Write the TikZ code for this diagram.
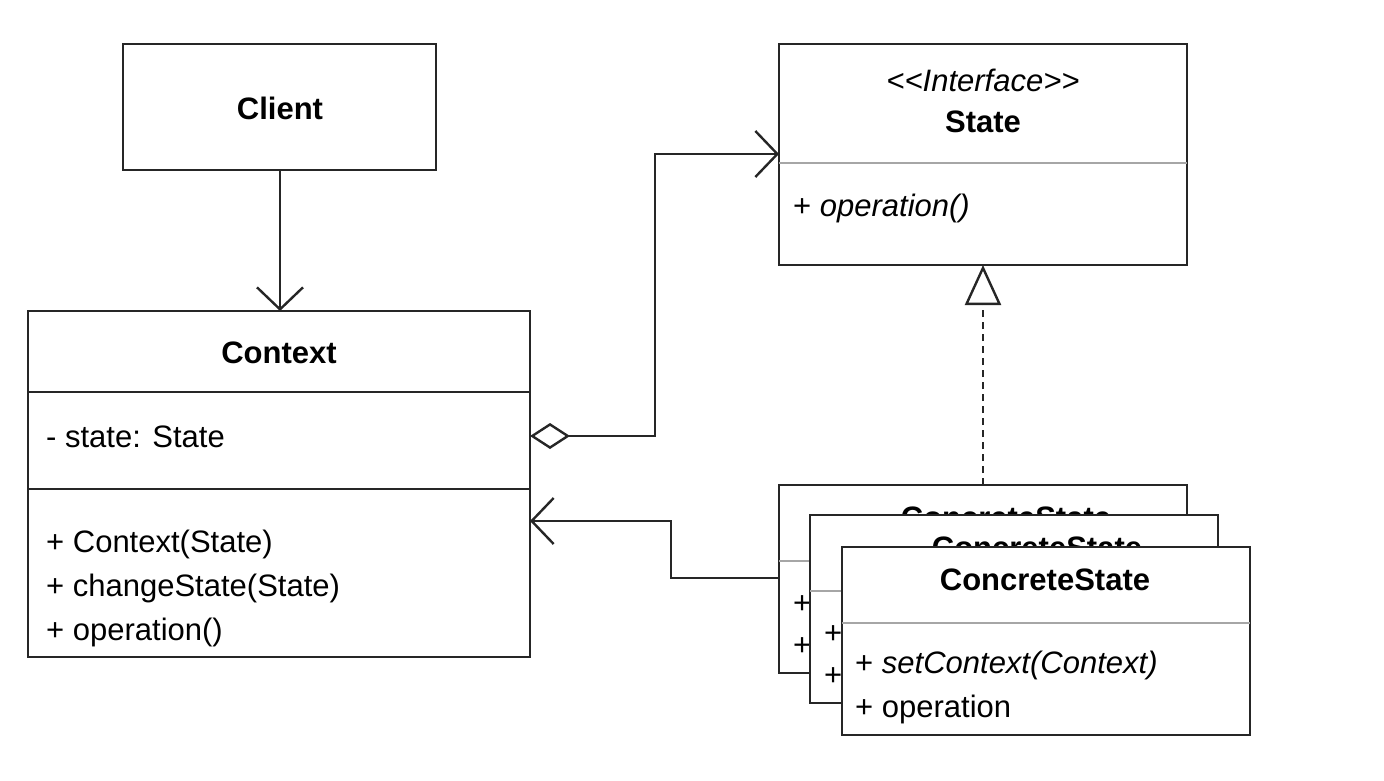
\documentclass[tikz,border=0pt]{standalone}
\usepackage{fontspec}
\setmainfont{Liberation Sans}
\usetikzlibrary{arrows.meta}
\begin{document}
\begin{tikzpicture}[x=1pt,y=-1pt,
 box/.style={draw=black!85,line width=2.4pt,fill=white},
 sep/.style={draw=black!35,line width=1.5pt},
 blk/.style={draw=black!85,line width=2.4pt},
 t/.style={font=\fontsize{31}{44}\selectfont,inner sep=0pt},
 tb/.style={t,font=\fontsize{31}{44}\selectfont\bfseries},
 barb/.style={-{Straight Barb[length=22pt,width=46pt,line width=2.4pt]}},
]
\useasboundingbox (0,0) rectangle (1384,780);
% Client
\draw[box] (123,44) rectangle (436,170);
\node[tb] (client) at (280,108) {Client};
\coordinate (clb) at (280,170);
% Context
\draw[box] (28,311) rectangle (530,657);
\draw[blk] (28,392) -- (530,392);
\draw[blk] (28,489) -- (530,489);
\node[tb] (ctx) at (279,353) {Context};
\node[t,anchor=west] (ctxa) at (46,437) {- state: State};
\node[t,anchor=west,align=left] (ctxm) at (46,588) {+ Context(State)\\+ changeState(State)\\+ operation()};
\coordinate (ctxtop) at (280,311);
\coordinate (ctxr1) at (530,436);
\coordinate (ctxr2) at (530,521);
% State
\draw[box] (779,44) rectangle (1187,265);
\draw[sep] (779,163) -- (1187,163);
\node[t] (st1) at (983,80) {\itshape <{}<Interface>{}>};
\node[tb] (st2) at (983,122) {State};
\node[t,anchor=west] (st3) at (793,208) {+ \itshape operation()};
\coordinate (stl) at (779,154);
\coordinate (stb) at (983,265);
% Concrete states (back ones show only the plus signs)
\foreach \dx/\dy/\n in {0/0/a,31/30/b}{
 \begin{scope}[shift={(\dx,\dy)}]
 \draw[box] (779,485) rectangle (1187,673);
 \draw[sep] (779,561) -- (1187,561);
 \node[tb] (cs\n) at (1006,518) {ConcreteState};
 \node[t,anchor=west] (cs\n1) at (793,605) {+};
 \node[t,anchor=west] (cs\n2) at (793,647) {+};
 \end{scope}}
\draw[box] (842,547) rectangle (1250,735);
\draw[sep] (842,623) -- (1250,623);
\node[tb] (csc) at (1045,580) {ConcreteState};
\node[t,anchor=west] (csc1) at (855,665) {+ \itshape setContext(Context)};
\node[t,anchor=west] (csc2) at (855,709) {+ operation};
\coordinate (csat) at (983,485);
\coordinate (csal) at (779,578);
% connectors
\draw[blk,barb] (clb) -- (ctxtop);
\draw[blk,{Diamond[open,length=40pt,width=26pt,line width=2.4pt]}-{Straight Barb[length=22pt,width=46pt,line width=2.4pt]}] (ctxr1) -- (655,436) -- (655,154) -- (stl);
\draw[blk,barb] (csal) -- (671,578) -- (671,521) -- (ctxr2);
\draw[blk,dashed,dash pattern=on 7pt off 5pt,-{Triangle[open,length=40pt,width=36pt,line width=2.4pt]}] (csat) -- (stb);
\end{tikzpicture}
\end{document}
